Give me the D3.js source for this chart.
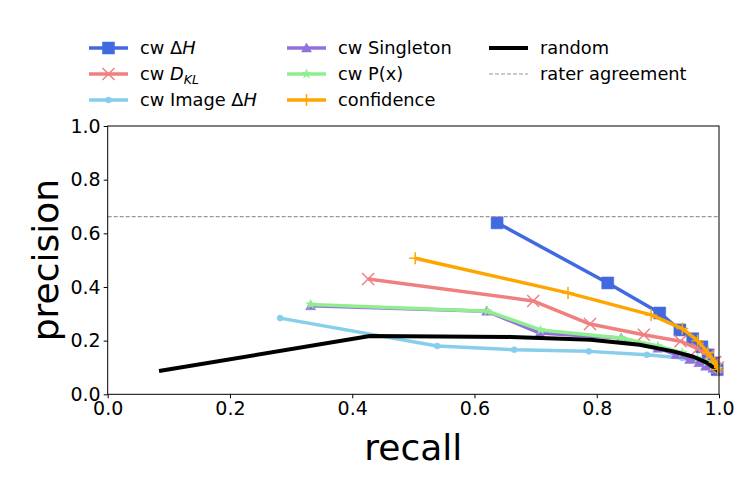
<!DOCTYPE html>
<html>
<head>
<meta charset="utf-8">
<script src="https://cdn.jsdelivr.net/npm/d3@7"></script>
<style>
  body { margin: 0; background: #fff; }
  svg { font-family: "DejaVu Sans", sans-serif; }
</style>
</head>
<body>
<script>
// recall / precision pairs
var cwDeltaH = [[0.637, 0.639], [0.818, 0.415], [0.903, 0.303], [0.936, 0.240], [0.957, 0.207],
  [0.972, 0.177], [0.982, 0.147], [0.990, 0.117], [0.997, 0.092]]
var cwDKL = [[0.426, 0.430], [0.696, 0.348], [0.789, 0.262], [0.877, 0.222], [0.937, 0.198],
  [0.965, 0.170], [0.983, 0.145], [0.994, 0.120], [0.998, 0.100]]
var cwImage = [[0.282, 0.284], [0.539, 0.180], [0.665, 0.166], [0.787, 0.160], [0.882, 0.147],
  [0.940, 0.135], [0.970, 0.122], [0.990, 0.108], [0.998, 0.095]]
var cwSingleton = [[0.332, 0.330], [0.620, 0.310], [0.707, 0.228], [0.840, 0.210], [0.900, 0.172],
  [0.930, 0.148], [0.952, 0.130], [0.967, 0.118], [0.978, 0.105], [0.990, 0.097], [0.998, 0.092]]
var cwPx = [[0.332, 0.335], [0.621, 0.310], [0.708, 0.240], [0.840, 0.210], [0.900, 0.180],
  [0.940, 0.155], [0.965, 0.135], [0.980, 0.120], [0.990, 0.105], [0.998, 0.095]]
var confidence = [[0.503, 0.507], [0.753, 0.378], [0.889, 0.296], [0.940, 0.245], [0.965, 0.200],
  [0.982, 0.155], [0.993, 0.120], [0.998, 0.092]]
var random = [[0.084, 0.087], [0.429, 0.217], [0.660, 0.214], [0.790, 0.203], [0.870, 0.185],
  [0.925, 0.160], [0.958, 0.140], [0.980, 0.118], [0.993, 0.097], [0.998, 0.088]]
var raterAgreement = 0.662
var xTicks = [0, 0.2, 0.4, 0.6, 0.8, 1.0]
var yTicks = [0, 0.2, 0.4, 0.6, 0.8, 1.0]

var width = 745, height = 481
var plotL = 107.7, plotR = 719, plotT = 126, plotB = 394.3

var svg = d3.select("body").append("svg")
  .attr("width", width)
  .attr("height", height)

var x = d3.scaleLinear().domain([0, 1]).range([plotL, plotR])
var y = d3.scaleLinear().domain([0, 1]).range([plotB, plotT])

// marker shapes, centred on 0,0
function markerPath(kind, s) {
  var h = s / 2
  if (kind == "square") return "M" + -h + "," + -h + "h" + s + "v" + s + "h" + -s + "z"
  if (kind == "x") return "M" + -h + "," + -h + "L" + h + "," + h + "M" + -h + "," + h + "L" + h + "," + -h
  if (kind == "plus") return "M" + -h + ",0H" + h + "M0," + -h + "V" + h
  if (kind == "triangle") return "M0," + -h + "L" + h + "," + h * 0.8 + "L" + -h + "," + h * 0.8 + "z"
  if (kind == "star") return d3.symbol(d3.symbolStar, s * s * 0.35)()
  if (kind == "dot") return d3.symbol(d3.symbolCircle, s * s * 0.8)()
  return ""
}

var series = [
  {name: "dh", data: cwDeltaH, color: "#4169e1", marker: "square", size: 12, filled: true},
  {name: "dkl", data: cwDKL, color: "#f08080", marker: "x", size: 12, filled: false},
  {name: "img", data: cwImage, color: "#87ceeb", marker: "dot", size: 6, filled: true},
  {name: "single", data: cwSingleton, color: "#9370db", marker: "triangle", size: 10, filled: true},
  {name: "px", data: cwPx, color: "#90ee90", marker: "star", size: 9, filled: true},
  {name: "random", data: random, color: "#000000", marker: null, size: 0, filled: false, width: 4},
  {name: "conf", data: confidence, color: "#ffa500", marker: "plus", size: 12, filled: false}
]

var line = d3.line().x(function(d) { return x(d[0]) }).y(function(d) { return y(d[1]) })

// axis frame
var xAxis = d3.axisBottom(x).tickValues(xTicks).tickFormat(d3.format(".1f")).tickSize(4).tickPadding(3)
var yAxis = d3.axisLeft(y).tickValues(yTicks).tickFormat(d3.format(".1f")).tickSize(4).tickPadding(3)

var gx = svg.append("g").attr("transform", "translate(0," + plotB + ")").call(xAxis)
var gy = svg.append("g").attr("transform", "translate(" + plotL + ",0)").call(yAxis)
;[gx, gy].forEach(function(g) {
  g.select(".domain").remove()
  g.selectAll("text").attr("font-size", 19).attr("font-family", "DejaVu Sans").attr("fill", "#000")
  g.selectAll("line").attr("stroke", "#000").attr("stroke-width", 1)
})

// data lines
series.forEach(function(s) {
  svg.append("path")
    .attr("d", line(s.data))
    .attr("fill", "none")
    .attr("stroke", s.color)
    .attr("stroke-width", s.width || 3.5)
    .attr("stroke-linejoin", "round")
  if (!s.marker) return
  svg.selectAll(null).data(s.data).enter().append("path")
    .attr("transform", function(d) { return "translate(" + x(d[0]) + "," + y(d[1]) + ")" })
    .attr("d", markerPath(s.marker, s.size))
    .attr("fill", s.filled ? s.color : "none")
    .attr("stroke", s.color)
    .attr("stroke-width", s.filled ? 0.5 : 1.5)
})

svg.append("line")
  .attr("x1", x(0)).attr("x2", x(1))
  .attr("y1", y(raterAgreement)).attr("y2", y(raterAgreement))
  .attr("stroke", "#999").attr("stroke-width", 1.2)
  .attr("stroke-dasharray", "4,2")

svg.append("rect")
  .attr("x", plotL).attr("y", plotT)
  .attr("width", plotR - plotL).attr("height", plotB - plotT)
  .attr("fill", "none").attr("stroke", "#000").attr("stroke-width", 1)

// axis titles
svg.append("text")
  .attr("x", (plotL + plotR) / 2).attr("y", 460)
  .attr("text-anchor", "middle")
  .attr("font-size", 36)
  .text("recall")

svg.append("text")
  .attr("transform", "translate(58," + (plotT + plotB) / 2 + ") rotate(-90)")
  .attr("text-anchor", "middle")
  .attr("font-size", 36)
  .text("precision")

// legend
var legend = [
  {col: 0, row: 0, s: series[0], label: [["cw Δ"], ["H", "i"]]},
  {col: 0, row: 1, s: series[1], label: [["cw "], ["D", "i"], ["KL", "sub"]]},
  {col: 0, row: 2, s: series[2], label: [["cw Image Δ"], ["H", "i"]]},
  {col: 1, row: 0, s: series[3], label: [["cw Singleton"]]},
  {col: 1, row: 1, s: series[4], label: [["cw P(x)"]]},
  {col: 1, row: 2, s: series[6], label: [["confidence"]]},
  {col: 2, row: 0, s: series[5], label: [["random"]]},
  {col: 2, row: 1, s: {color: "#999", dash: true}, label: [["rater agreement"]]}
]
var colX = [89, 287, 489]
var rowY = [48, 74, 100]

legend.forEach(function(item) {
  var lx = colX[item.col], ly = rowY[item.row]
  var g = svg.append("g")
  g.append("line")
    .attr("x1", lx).attr("x2", lx + 39)
    .attr("y1", ly).attr("y2", ly)
    .attr("stroke", item.s.color)
    .attr("stroke-width", item.s.dash ? 1.2 : (item.s.width || 3.5))
    .attr("stroke-dasharray", item.s.dash ? "4,2" : null)
  if (item.s.marker) {
    g.append("path")
      .attr("transform", "translate(" + (lx + 19.5) + "," + ly + ")")
      .attr("d", markerPath(item.s.marker, item.s.size))
      .attr("fill", item.s.filled ? item.s.color : "none")
      .attr("stroke", item.s.color)
      .attr("stroke-width", item.s.filled ? 0.5 : 1.5)
  }
  var t = g.append("text")
    .attr("x", lx + 51).attr("y", ly + 6)
    .attr("font-size", 17.8)
  item.label.forEach(function(part) {
    var sp = t.append("tspan").text(part[0])
    if (part[1] == "i") sp.attr("font-style", "italic")
    if (part[1] == "sub") sp.attr("font-style", "italic").attr("font-size", 12.5).attr("dy", 4)
  })
})
</script>
</body>
</html>
